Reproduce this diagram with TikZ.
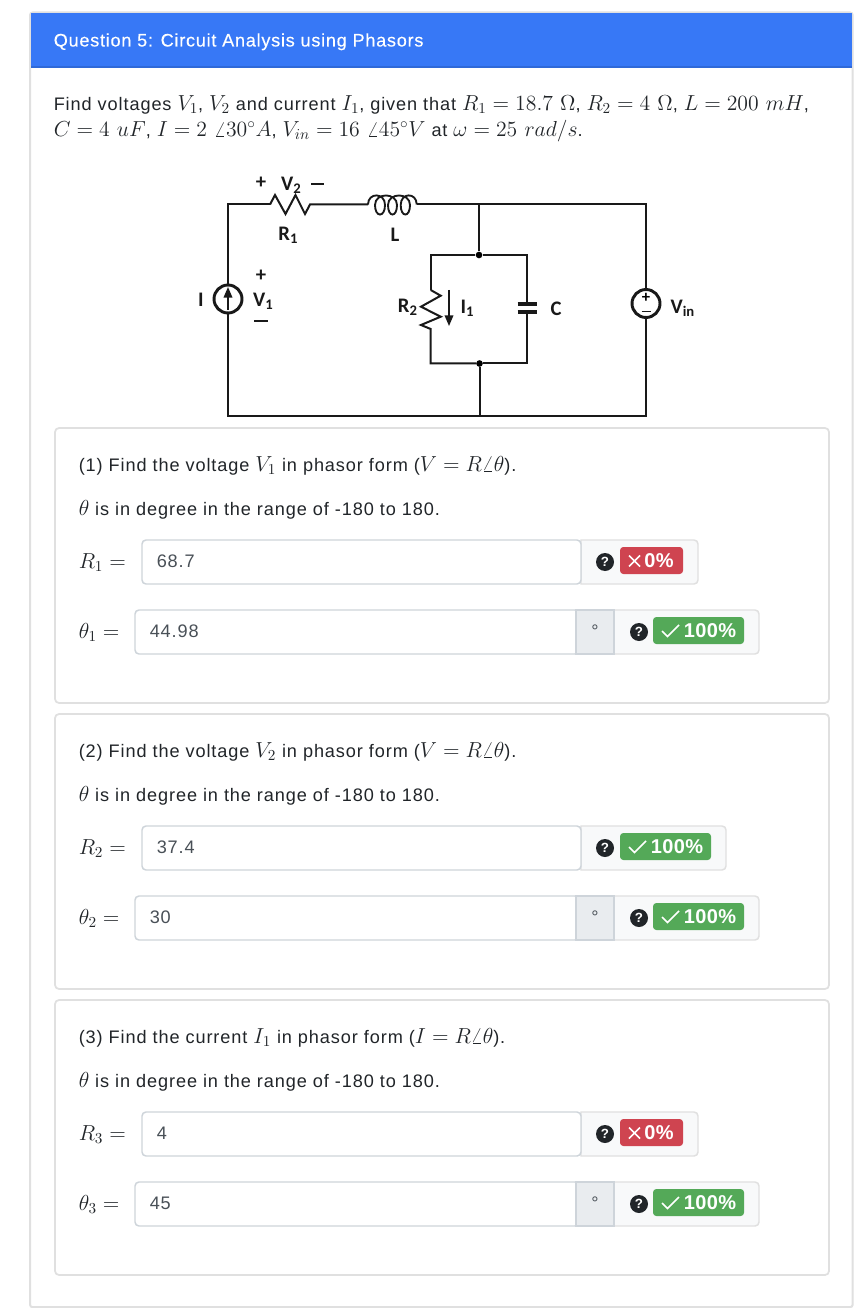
\documentclass[tikz,border=0pt]{standalone}
\usepackage{fix-cm}
\usepackage{fontspec}
\setmainfont[LetterSpace=5]{Liberation Sans}
\newfontfamily\hdrfont[FakeBold=0.25,LetterSpace=4]{Liberation Sans}
\newfontfamily\boldfont[LetterSpace=2]{Liberation Sans Bold}
\newfontfamily\cirfont{Carlito Bold}
\usetikzlibrary{calc,arrows.meta}
\definecolor{txt}{HTML}{212529}
\definecolor{val}{HTML}{495057}
\definecolor{edge}{HTML}{E0E0E0}
\definecolor{inedge}{HTML}{CED4DA}
\definecolor{addonbg}{HTML}{F8F9FA}
\definecolor{degbg}{HTML}{E9ECEF}
\definecolor{hdr}{HTML}{3778F6}
\definecolor{hdrline}{HTML}{2F69D8}
\definecolor{badred}{HTML}{CF4450}
\definecolor{badgreen}{HTML}{54A958}
\newcommand\mth[1]{{\fontsize{16.3}{18}\selectfont$#1$}}
\newcommand\bodyt{\fontsize{13.6}{16}\selectfont}
\newcommand\sbs[1]{\raisebox{-2.4pt}{\fontsize{11}{11}\selectfont #1}}
\tikzset{
 x=0.75pt,y=-0.75pt,
 body/.style={anchor=base west,inner sep=0,text=txt,font=\bodyt},
 valtext/.style={anchor=base west,inner sep=0,text=val,font=\bodyt},
 wire/.style={line width=1.5pt,draw=black!90,line join=miter},
 cirlabel/.style={inner sep=0,font=\cirfont\fontsize{15.5}{17}\selectfont,text=black!90},
 junction/.style={circle,fill=black,inner sep=0,minimum size=5pt},
 source/.style={circle,draw=black!90,line width=2.2pt,fill=white,inner sep=0,minimum size=21pt},
 cardbox/.style={draw=edge,line width=1.3pt,fill=white,rounded corners=3pt},
 inbox/.style={draw=inedge,line width=1.1pt,fill=white,rounded corners=3pt},
 addon/.style={draw=edge,line width=1.1pt,fill=addonbg},
 degbox/.style={draw=inedge,line width=1.1pt,fill=degbg},
 help/.style={circle,fill=txt,text=white,inner sep=0,minimum size=13.5pt,font=\boldfont\fontsize{10}{10}\selectfont},
 badgetext/.style={anchor=base west,inner sep=0,text=white,font=\boldfont\fontsize{15}{15}\selectfont},
 tick/.style={draw=white,line width=1.2pt},
}
% right-hand group: #1 top, #2 left, #3 right
\newcommand\addonbox[3]{\path[addon] (#2,#1) [rounded corners=3pt] -- (#3,#1) -- (#3,#1+44) [sharp corners] -- (#2,#1+44) -- cycle;}
\newcommand\redbadge[1]{%
 \node[help] at (605,#1+22) {?};
 \fill[badred,rounded corners=2.5pt] (620,#1+7) rectangle (683,#1+34);
 \draw[tick] (629,#1+15.5) -- (640,#1+26.5) (640,#1+15.5) -- (629,#1+26.5);
 \node[badgetext] at (644,#1+27) {0\%};}
\newcommand\greenbadge[3]{% top, help x, badge left
 \node[help] at (#2,#1+22) {?};
 \fill[badgreen,rounded corners=2.5pt] (#3,#1+7) rectangle (#3+91,#1+34);
 \draw[tick] (#3+9,#1+21) -- (#3+14.5,#1+26.5) -- (#3+26,#1+15);
 \node[badgetext] at (#3+30.5,#1+27) {100\%};}
\newcommand\rrowbox[3]{% top, label, value
 \node[body] at (78.5,#1+28) {\mth{#2}};
 \path[inbox] (142,#1) rectangle (581,#1+44);
 \node[valtext] at (156.5,#1+27.5) {#3};}
\newcommand\trowbox[3]{%
 \node[body] at (78.5,#1+28) {\mth{#2}};
 \path[inbox] (135,#1) rectangle (579,#1+44);
 \addonbox{#1}{614}{759}
 \path[degbox] (576,#1) rectangle (614,#1+44);
 \node[valtext] at (149.5,#1+27.5) {#3};
 \node[inner sep=0,anchor=base,text=val,font=\bodyt] at (595,#1+27) {°};
 \greenbadge{#1}{639}{653}}
\newcommand\qcard[3]{% top, text num, theta
 \path[cardbox] (55,#1) rectangle (829,#1+275);
 \node[body] at (78.5,#1+43) {#2};
 \node[body] at (78.5,#1+87) {\mth{\theta} is in degree in the range of -180 to 180.};}
\begin{document}
\begin{tikzpicture}
\useasboundingbox (0,0) rectangle (862,1308);
\fill[white] (0,0) rectangle (862,1308);
% outer card
\draw[edge,line width=1.5pt,fill=white,rounded corners=2pt] (30,12.5) rectangle (852.7,1307.2);
\fill[hdr] (31,13.5) rectangle (851.7,67);
\draw[hdrline,line width=0.8pt] (31,67) -- (851.7,67);
\node[anchor=base west,inner sep=0,text=white,font=\hdrfont\fontsize{13.6}{16}\selectfont] (title) at (53.5,46.5) {Question 5: Circuit Analysis using Phasors};
\node[body] (given1) at (53.5,110.5) {Find voltages \mth{V_1}, \mth{V_2} and current \mth{I_1}, given that \mth{R_1=18.7\ \Omega}, \mth{R_2=4\ \Omega}, \mth{L=200\ mH},};
\node[body] (given2) at (53.5,136.5) {\mth{C=4\ uF}, \mth{I=2\ \angle 30^{\circ} A}, \mth{V_{in}=16\ \angle 45^{\circ} V} at \mth{\omega=25\ rad/s}.};
% circuit
\coordinate (tl) at (228,204.5);
\coordinate (bl) at (228,416);
\coordinate (tr) at (646,204.5);
\coordinate (br) at (646,416);
\coordinate (r1a) at (270,204.5);
\coordinate (r1b) at (310,204.5);
\coordinate (la) at (368,204.5);
\coordinate (lb) at (416.7,204.5);
\coordinate (jt) at (479,204.5);
\coordinate (jb0) at (479.5,416);
\node[junction] (ju) at (479,255) {};
\node[junction] (jl) at (479.5,363.5) {};
\coordinate (ul) at (430.7,255);
\coordinate (ur) at (527.3,255);
\coordinate (ll) at (430.7,363.5);
\coordinate (lr) at (527.3,363.5);
\coordinate (r2a) at (430.7,290);
\coordinate (r2b) at (430.7,329);
\coordinate (capa) at (527.3,304);
\coordinate (capb) at (527.3,312);
\node[source] (isrc) at (228,299) {};
\node[source] (vsrc) at (646,303.5) {};
\draw[wire] (isrc) -- (tl) -- (r1a);
\draw[wire] (r1a) -- (275,195) -- (285.5,214) -- (295.5,195) -- (305,214) -- (r1b) -- (la);
\draw[wire,line width=1.4pt] (la) .. controls (368,192.3) and (385,192.3) .. (385,205)
  .. controls (385,217.7) and (375,217.7) .. (375,205)
  .. controls (375,192.3) and (397,192.3) .. (397,205)
  .. controls (397,217.7) and (388,217.7) .. (388,205)
  .. controls (388,192.3) and (410,192.3) .. (410,205)
  .. controls (410,217.7) and (400.7,217.7) .. (400.7,205)
  .. controls (400.7,192.3) and (416.7,192.3) .. (lb);
\draw[wire] (lb) -- (tr) -- (vsrc);
\draw[wire] (vsrc) -- (br) -- (bl) -- (isrc);
\draw[wire] (jt) -- (ju);
\draw[wire] (jl) -- (jb0);
\draw[wire] (ju) -- (ul) -- (r2a);
\draw[wire] (r2a) -- (440.7,295.7) -- (421,306.7) -- (440.7,316.7) -- (421,325) -- (r2b) -- (ll) -- (jl);
\draw[wire] (ju) -- (ur) -- (capa);
\draw[wire] (capb) -- (lr) -- (jl);
\draw[line width=2.4pt,draw=black!90] ($(capa)+(-9.7,0)$) -- ($(capa)+(9.7,0)$);
\draw[line width=2.4pt,draw=black!90] ($(capb)+(-9.7,0)$) -- ($(capb)+(9.7,0)$);
% source marks
\coordinate (ia) at (228,310);
\coordinate (ib) at (228,287);
\draw[line width=1.2pt,draw=black!90,-{Triangle[length=8pt,width=6.5pt]}] (ia) -- (ib);
\coordinate (i1a) at (449,290);
\coordinate (i1b) at (449,326);
\draw[line width=1.1pt,draw=black!90,-{Triangle[length=8pt,width=6.5pt]}] (i1a) -- (i1b);
\node[inner sep=0,font=\cirfont\fontsize{12.5}{12.5}\selectfont] (vplus) at (646,298) {+};
\coordinate (vm1) at (641.5,311.5);
\coordinate (vm2) at (650.5,311.5);
\draw[line width=1.2pt,draw=black!90] (vm1) -- (vm2);
% labels
\node[cirlabel] (lp2) at (261,183) {+};
\node[cirlabel] (lv2) at (291,185) {V\sbs{2}};
\coordinate (m2a) at (311,184);
\coordinate (m2b) at (324,184);
\draw[line width=1.2pt,draw=black!90] (m2a) -- (m2b);
\node[cirlabel] (lr1) at (288,235) {R\sbs{1}};
\node[cirlabel] (ll1) at (395,235) {L};
\node[cirlabel] (li) at (201,300) {I};
\node[cirlabel] (lp1) at (261,276) {+};
\node[cirlabel] (lv1) at (263,301) {V\sbs{1}};
\coordinate (m1a) at (254,321);
\coordinate (m1b) at (268,321);
\draw[line width=1.2pt,draw=black!90] (m1a) -- (m1b);
\node[cirlabel] (lr2) at (407.5,307) {R\sbs{2}};
\node[cirlabel] (li1) at (467,308) {I\sbs{1}};
\node[cirlabel] (lc) at (556,309) {C};
\node[cirlabel] (lvin) at (682.5,308) {V\sbs{in}};
% card 1
\qcard{428}{(1) Find the voltage \mth{V_1} in phasor form (\mth{V=R\angle\theta}).}{}
\addonbox{540}{581}{698}
\rrowbox{540}{R_1=}{68.7}
\redbadge{540}
\trowbox{610}{\theta_1=}{44.98}
% card 2
\qcard{714}{(2) Find the voltage \mth{V_2} in phasor form (\mth{V=R\angle\theta}).}{}
\addonbox{826}{581}{726}
\rrowbox{826}{R_2=}{37.4}
\greenbadge{826}{605}{620}
\trowbox{896}{\theta_2=}{30}
% card 3
\qcard{1000}{(3) Find the current \mth{I_1} in phasor form (\mth{I=R\angle\theta}).}{}
\addonbox{1112}{581}{698}
\rrowbox{1112}{R_3=}{4}
\redbadge{1112}
\trowbox{1182}{\theta_3=}{45}
\end{tikzpicture}
\end{document}
